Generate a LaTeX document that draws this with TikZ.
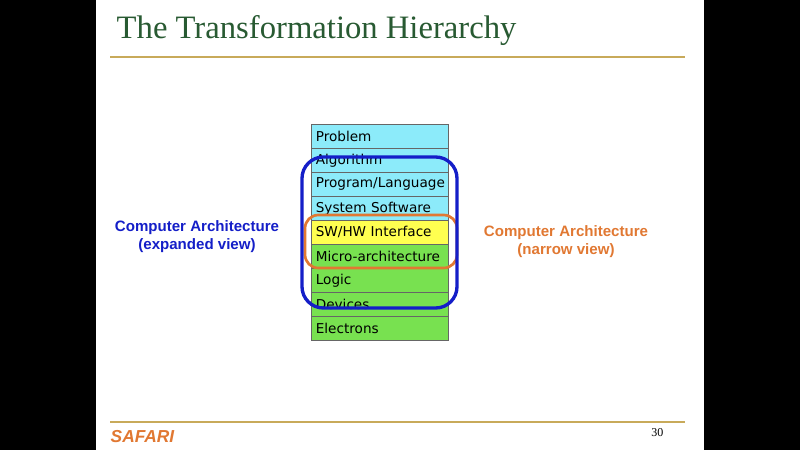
\documentclass[tikz,border=0pt]{standalone}
\usepackage{fontspec}
\setmainfont{DejaVu Sans}
\newfontfamily\titlefont{Liberation Serif}
\newfontfamily\lblfont{Liberation Sans}
\definecolor{cyanbox}{RGB}{140,235,250}
\definecolor{yelbox}{RGB}{255,255,80}
\definecolor{grnbox}{RGB}{120,225,80}
\definecolor{titlegreen}{RGB}{40,90,50}
\definecolor{goldline}{RGB}{200,170,90}
\definecolor{archblue}{RGB}{20,30,200}
\definecolor{archorange}{RGB}{225,120,50}
\begin{document}
\begin{tikzpicture}[x=0.75pt,y=-0.75pt,
  layer/.style={draw=black!60,line width=0.5pt,minimum width=102.75pt,minimum height=18pt,anchor=north west,inner sep=3pt,text width=96pt,align=left,font=\fontsize{10.2}{12}\selectfont},
  lbl/.style={font=\lblfont\bfseries\fontsize{11.3}{13.5}\selectfont,align=center}]
\fill[black] (0,0) rectangle (800,450);
\fill[white] (96,0) rectangle (704,450);
\node[font=\titlefont\fontsize{24.5}{28}\selectfont,text=titlegreen,anchor=west] (title) at (112,31) {The Transformation Hierarchy};
\draw[goldline,line width=1pt] (110,57) -- (685,57);
\draw[goldline,line width=1pt] (110,422) -- (685,422);
\node[font=\lblfont\bfseries\itshape\fontsize{13}{15}\selectfont,text=archorange,anchor=west] (safari) at (106,437) {SAFARI};
\node[font=\titlefont\fontsize{9}{11}\selectfont,anchor=east] (pg) at (668,433) {30};
\foreach \t/\c [count=\i from 0] in {Problem/cyanbox,Algorithm/cyanbox,{Program/Language}/cyanbox,System Software/cyanbox,{SW/HW Interface}/yelbox,Micro-architecture/grnbox,Logic/grnbox,Devices/grnbox,Electrons/grnbox}
  \node[layer,fill=\c] (l\i) at (311,124+24*\i) {\t};
\draw[archorange,line width=2pt,rounded corners=10pt] (305,215) rectangle (457,268);
\draw[archblue,line width=2.5pt,rounded corners=16pt] (302,157) rectangle (457,308);
\node[lbl,text=archblue] (exp) at (197,237) {Computer Architecture\\(expanded view)};
\node[lbl,text=archorange] (nar) at (566,242) {Computer Architecture\\(narrow view)};
\end{tikzpicture}
\end{document}
